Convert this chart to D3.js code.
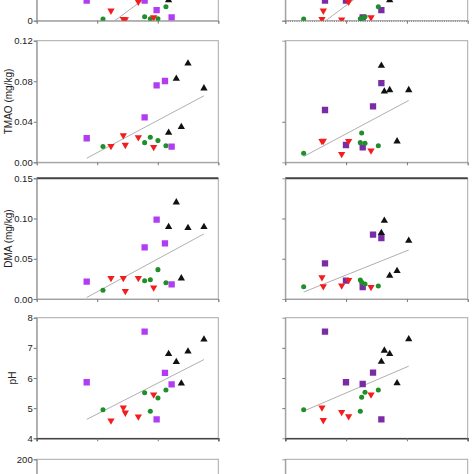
<!DOCTYPE html>
<html>
<head>
<meta charset="utf-8">
<script src="https://cdn.jsdelivr.net/npm/d3@7"></script>
<style>
html, body { margin: 0; padding: 0; background: #fff; }
svg { display: block; font-family: "Liberation Sans", Arial, sans-serif; }
</style>
</head>
<body>
<svg id="chart" width="474" height="474"></svg>
<script>
// groups, in draw order
var groups = ['purple', 'green', 'red', 'black'];

// x values, left column (one array per group)
var xLeft = [
  [0.826, 1.783, 1.981, 2.119, 2.229],
  [1.095, 1.783, 1.877, 2.003, 2.135],
  [1.227, 1.431, 1.464, 1.679, 1.932],
  [2.179, 2.306, 2.389, 2.499, 2.763]
];
// x values, right column
var xRight = [
  [0.653, 0.998, 1.273, 1.443, 1.580],
  [0.302, 1.234, 1.256, 1.311, 1.530],
  [0.603, 0.625, 0.927, 1.042, 1.410],
  [1.580, 1.629, 1.717, 1.838, 2.030]
];

// top panel (cut off by the picture)
var topLeft = [
  [3.31, 3.31, 1.76, 8, 0.55],
  [0.28, 0.66, 0.33, 0.33, 2.31],
  [1.65, 0.28, 0.22, 3.14, 0.55],
  [3.4, 14, 12, 16, 16]
];
var topRight = [
  [3.31, 3.31, 0.55, 8, 1.76],
  [0.28, 0.33, 0.33, 0.66, 2.31],
  [0.28, 1.65, 0.2, 3.14, 0.55],
  [14, 16, 3.4, 12, 16]
];

var tmaoLeft = [
  [0.0237, 0.0444, 0.0759, 0.0802, 0.0155],
  [0.0155, 0.0194, 0.0247, 0.0214, 0.0164],
  [0.0161, 0.0266, 0.0171, 0.0247, 0.0151],
  [0.0293, 0.0825, 0.0349, 0.0976, 0.0730]
];
var tmaoRight = [
  [0.0516, 0.0171, 0.0148, 0.0552, 0.0782],
  [0.0089, 0.0194, 0.0289, 0.0187, 0.0164],
  [0.0210, 0.0212, 0.0082, 0.0210, 0.0115],
  [0.0953, 0.0700, 0.0713, 0.0207, 0.0713]
];

var dmaLeft = [
  [0.0215, 0.0642, 0.0986, 0.0692, 0.0182],
  [0.0108, 0.0228, 0.0240, 0.0365, 0.0203],
  [0.0261, 0.0261, 0.0099, 0.0261, 0.0141],
  [0.0895, 0.1202, 0.0257, 0.0883, 0.0895]
];
var dmaRight = [
  [0.0443, 0.0228, 0.0149, 0.0800, 0.0758],
  [0.0153, 0.0236, 0.0207, 0.0186, 0.0162],
  [0.0269, 0.0157, 0.0166, 0.0236, 0.0149],
  [0.0820, 0.0974, 0.0290, 0.0348, 0.0725]
];

var phLeft = [
  [5.86, 7.54, 4.63, 6.17, 5.79],
  [4.95, 5.51, 4.90, 5.34, 5.60],
  [4.59, 5.02, 4.85, 4.72, 5.45],
  [6.80, 6.53, 5.82, 6.88, 7.28]
];
var phRight = [
  [7.54, 5.86, 5.80, 6.18, 4.63],
  [4.95, 4.90, 5.36, 5.53, 5.60],
  [5.02, 4.60, 4.87, 4.73, 5.45],
  [6.54, 6.91, 6.80, 5.83, 7.29]
];

var xTicks = [0, 1, 2, 3];

// panel rows: y domain, ticks (only those inside the picture), label format, title
var rows = [
  { y0: -100.3, y1: 20.7, domain: [0, 20], ticks: [0], ticksR: [0], fmt: d3.format('d'), title: '', left: topLeft, right: topRight, dottedBottomR: true },
  { y0: 40.7, y1: 162.3, domain: [0, 0.12], ticks: [0, 0.04, 0.08, 0.12], ticksR: [0.04], fmt: d3.format('.2f'), title: 'TMAO (mg/kg)', titleX: 8, left: tmaoLeft, right: tmaoRight },
  { y0: 178.3, y1: 299, domain: [0, 0.15], ticks: [0, 0.05, 0.10, 0.15], ticksR: [0.05, 0.10], fmt: d3.format('.2f'), title: 'DMA (mg/kg)', titleX: 8, left: dmaLeft, right: dmaRight, darkTop: true },
  { y0: 317.7, y1: 438.3, domain: [4, 8], ticks: [4, 5, 6, 7, 8], ticksR: [5, 6, 7], fmt: d3.format('d'), title: 'pH', titleX: 12, left: phLeft, right: phRight, darkBottom: true },
  { y0: 459.3, y1: 580, domain: [0, 200], ticks: [200], ticksR: [], fmt: d3.format('d'), title: '', left: null, right: null }
];

var cols = [
  { x0: 36.7, x1: 218.3, xs: xLeft, labels: true, key: 'left' },
  { x0: 285.3, x1: 467.7, xs: xRight, labels: false, key: 'right' }
];

var groupFill = { purple: ['#b13cf2', '#7a2ca6'], green: ['#1f8f2a', '#1f8f2a'], red: ['#f41d1d', '#f41d1d'], black: ['#111', '#111'] };

var svg = d3.select('#chart');

function fit(xs, ys) {
  var mx = d3.mean(xs), my = d3.mean(ys);
  var sxy = 0, sxx = 0;
  for (var i = 0; i < xs.length; i++) {
    sxy += (xs[i] - mx) * (ys[i] - my);
    sxx += (xs[i] - mx) * (xs[i] - mx);
  }
  var b = sxy / sxx;
  return { a: my - b * mx, b: b };
}

function markerPath(g) {
  if (g === 'purple') return d3.symbol().type(d3.symbolSquare).size(40)();
  if (g === 'green') return d3.symbol().type(d3.symbolCircle).size(20)();
  return d3.symbol().type(d3.symbolTriangle).size(23)();
}

rows.forEach(function(row, ri) {
  cols.forEach(function(col, ci) {
    var x = d3.scaleLinear().domain([0, 3]).range([col.x0, col.x1]);
    var y = d3.scaleLinear().domain(row.domain).range([row.y1, row.y0]);
    var g = svg.append('g');

    var clipId = 'clip-' + ri + '-' + ci;
    svg.append('clipPath').attr('id', clipId)
      .append('rect')
      .attr('x', col.x0).attr('y', row.y0)
      .attr('width', col.x1 - col.x0).attr('height', row.y1 - row.y0);

    // frame
    g.append('rect')
      .attr('x', col.x0).attr('y', row.y0)
      .attr('width', col.x1 - col.x0).attr('height', row.y1 - row.y0)
      .attr('fill', 'none').attr('stroke', '#a8a8a8').attr('stroke-width', 1);

    if (row.darkTop) {
      g.append('line').attr('x1', col.x0).attr('x2', col.x1)
        .attr('y1', row.y0).attr('y2', row.y0)
        .attr('stroke', '#444').attr('stroke-width', 2);
    }

    // y axis
    var yAxis = d3.axisLeft(y).tickValues(ci === 0 ? row.ticks : row.ticksR).tickSize(3)
      .tickFormat(col.labels ? row.fmt : '');
    var ya = g.append('g').attr('transform', 'translate(' + col.x0 + ',0)').call(yAxis);
    ya.select('.domain').attr('stroke', '#999');
    ya.selectAll('.tick line').attr('stroke', '#777');
    ya.selectAll('.tick text').attr('font-size', '9.5px').attr('fill', '#222').attr('x', -4);

    // x axis
    var xAxis = d3.axisBottom(x).tickValues(xTicks).tickSize(3).tickFormat('');
    var xa = g.append('g').attr('transform', 'translate(0,' + row.y1 + ')').call(xAxis);
    var dotted = row.dottedBottomR && ci === 1;
    xa.select('.domain')
      .attr('stroke', row.darkBottom ? '#444' : (dotted ? '#555' : '#a0a0a0'))
      .attr('stroke-width', row.darkBottom ? 1.6 : 1)
      .attr('stroke-dasharray', dotted ? '1,1.2' : null);
    xa.selectAll('.tick line').attr('stroke', '#777');

    if (col.labels && row.title) {
      g.append('text')
        .attr('transform', 'translate(' + row.titleX + ',' + ((row.y0 + row.y1) / 2) + ') rotate(-90)')
        .attr('text-anchor', 'middle')
        .attr('dominant-baseline', 'central')
        .attr('font-size', '10px').attr('fill', '#222')
        .text(row.title);
    }

    var ys = row[col.key];
    if (!ys) return;

    // trend line over all points
    var allX = d3.merge(col.xs), allY = d3.merge(ys);
    var f = fit(allX, allY);
    var xMin = d3.min(allX), xMax = d3.max(allX);
    g.append('line')
      .attr('clip-path', 'url(#' + clipId + ')')
      .attr('x1', x(xMin)).attr('y1', y(f.a + f.b * xMin))
      .attr('x2', x(xMax)).attr('y2', y(f.a + f.b * xMax))
      .attr('stroke', '#b0b0b0').attr('stroke-width', 1);

    groups.forEach(function(grp, gi) {
      var pts = col.xs[gi].map(function(xv, i) { return [xv, ys[gi][i]]; });
      g.append('g').attr('clip-path', 'url(#' + clipId + ')')
        .selectAll('path')
        .data(pts)
        .enter().append('path')
        .attr('d', markerPath(grp))
        .attr('transform', function(d) {
          return 'translate(' + x(d[0]) + ',' + y(d[1]) + ')' + (grp === 'red' ? ' rotate(180)' : '');
        })
        .attr('fill', groupFill[grp][ci]);
    });
  });
});
</script>
</body>
</html>
